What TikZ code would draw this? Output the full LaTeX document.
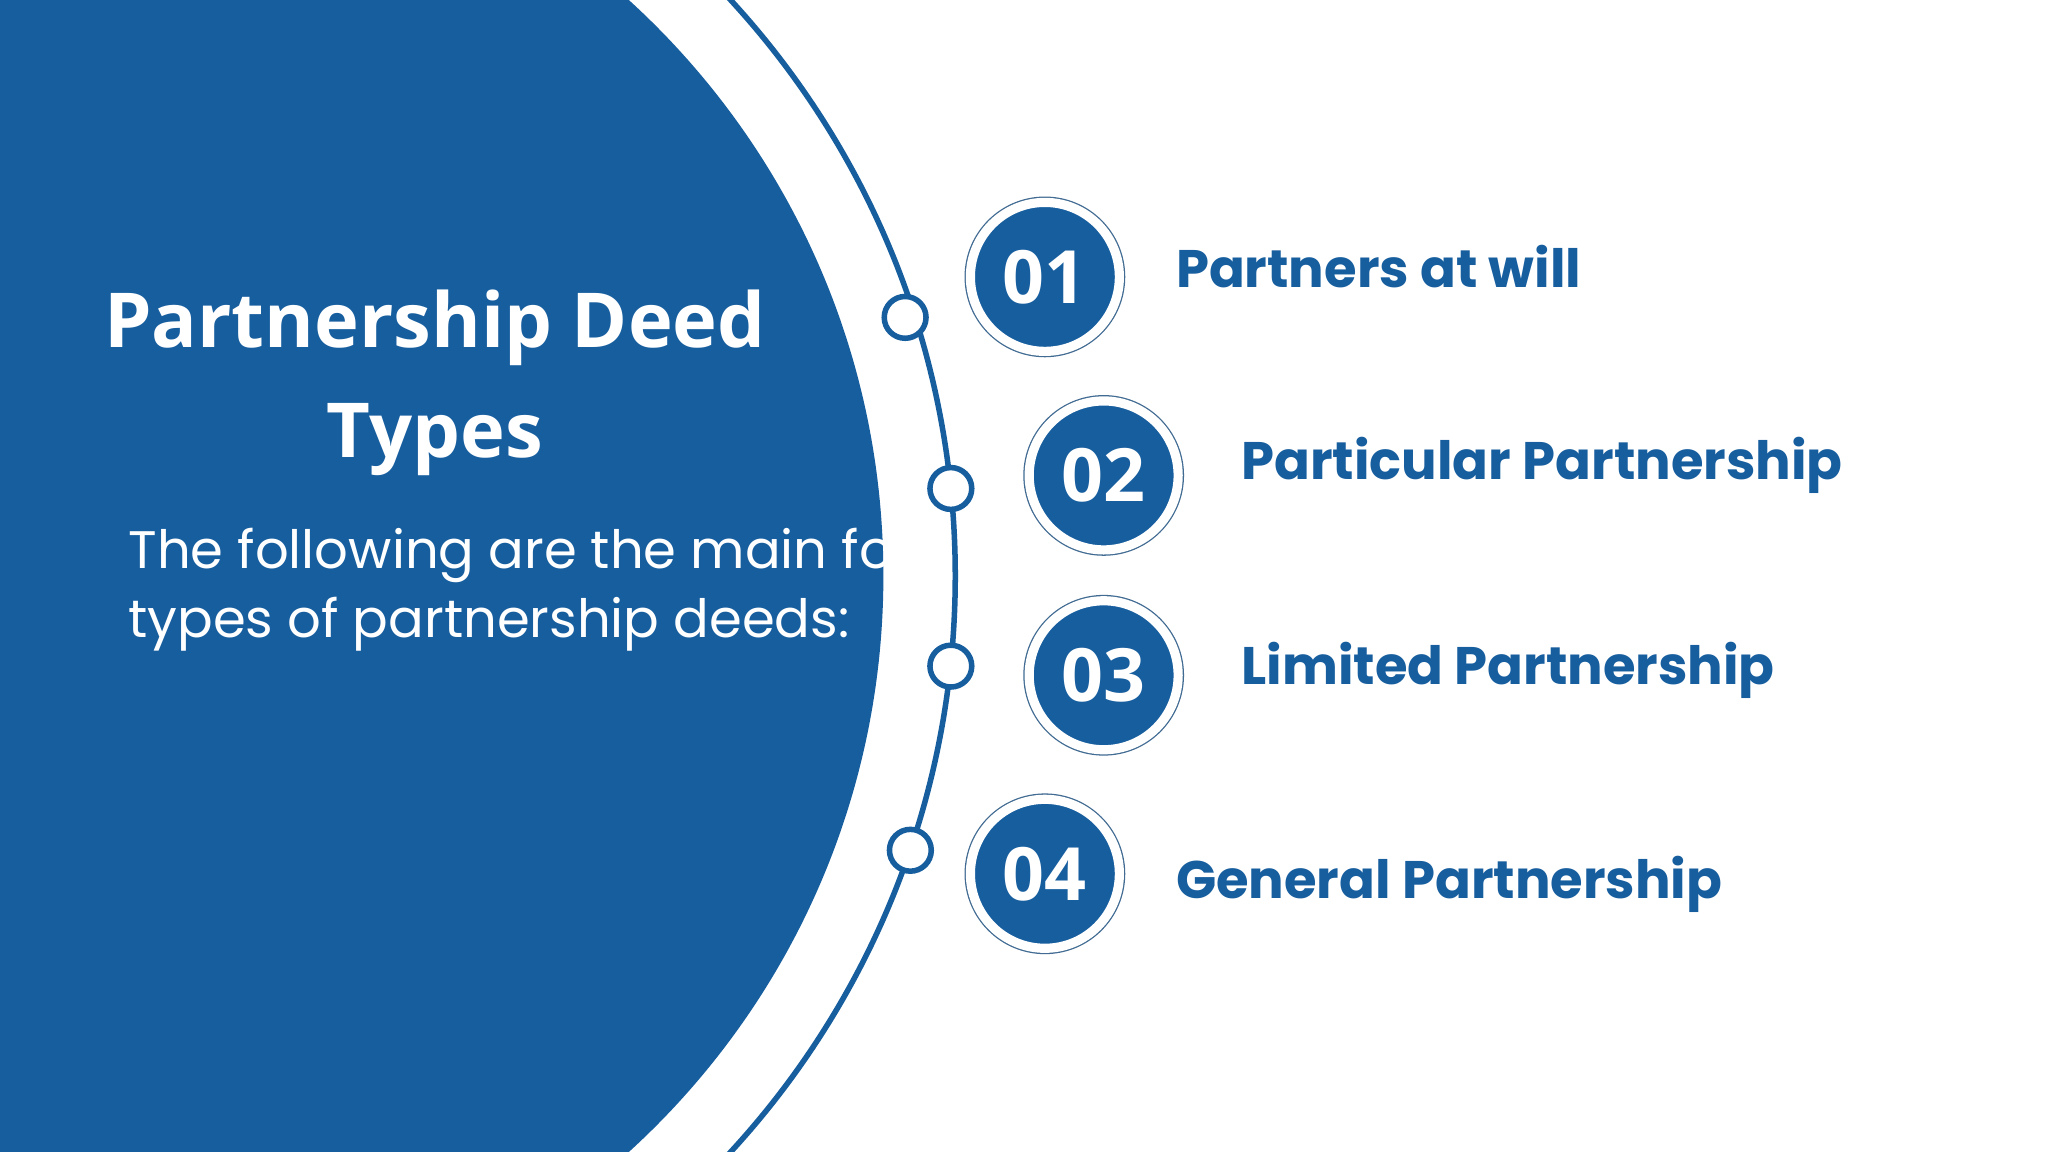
\documentclass[tikz,border=0pt]{standalone}
\usepackage{fontspec}
\setmainfont{Open Sans}
\newfontfamily\pop{Poppins}
\newfontfamily\popb{Poppins Bold}
\definecolor{bl}{HTML}{175E9F}
\begin{document}
\begin{tikzpicture}[x=0.01cm,y=-0.01cm,
 dot/.style={circle,draw=bl,line width=1.2pt,fill=white,minimum size=0.32cm,inner sep=0},
 num/.style={circle,fill=bl,draw=white,line width=2pt,minimum size=1.14cm,inner sep=0,text=white,font=\bfseries\fontsize{16}{18}\selectfont},
 lab/.style={anchor=west,text=bl,font=\popb\fontsize{11.5}{13}\selectfont}]
\useasboundingbox (0,0) rectangle (1568,882);
\fill[white] (0,0) rectangle (1568,882);
\begin{scope}
\clip (0,0) rectangle (1568,882);
\fill[bl] (80,441) circle (5.96cm);
\draw[bl,line width=1.2pt] (80,441) circle (6.51cm);
\end{scope}
\node[text=white,align=center,font=\bfseries\fontsize{16.5}{24}\selectfont] (t) at (333,293) {Partnership Deed\\Types};
\node[text=white,align=left,anchor=north west,font=\pop\fontsize{11.5}{15}\selectfont] (s) at (86,392) {The following are the main four\\types of partnership deeds:};
\foreach \i/\dx/\dy/\nx/\ny/\t in {1/693/243/800/212/Partners at will,2/728/374/845/364/Particular Partnership,3/728/510/845/517/Limited Partnership,4/697/651/800/669/General Partnership}{
 \node[dot] (d\i) at (\dx,\dy) {};
 \fill[bl!60!gray] (\nx,\ny) circle (0.615cm);
 \node[num] (n\i) at (\nx,\ny) {0\i};
}
\node[lab] (l1) at (888,204) {Partners at will};
\node[lab] (l2) at (938,356) {Particular Partnership};
\node[lab] (l3) at (938,513) {Limited Partnership};
\node[lab] (l4) at (888,677) {General Partnership};
\end{tikzpicture}
\end{document}
